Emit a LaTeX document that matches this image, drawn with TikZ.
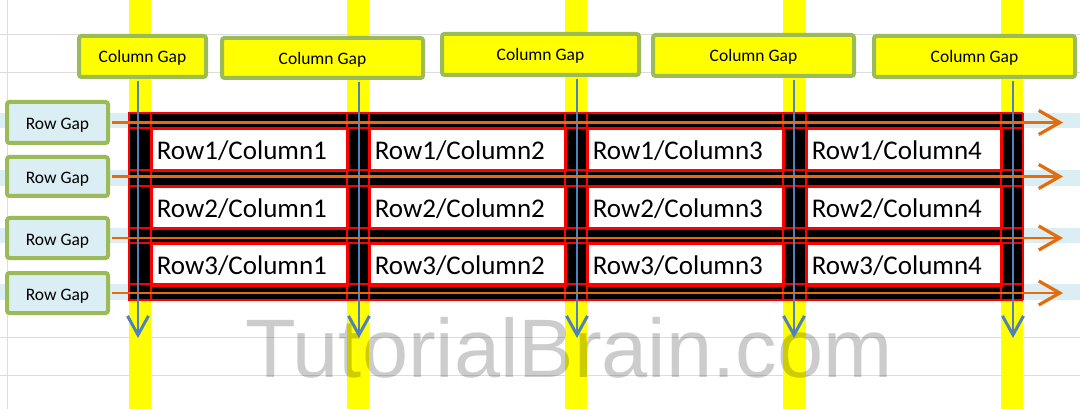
\documentclass[tikz,border=0pt]{standalone}
\usepackage{fontspec}
\setmainfont{Carlito}
\newfontfamily\wmfont{Liberation Sans}
\usetikzlibrary{arrows.meta}
\definecolor{ylw}{HTML}{FFFF00}
\definecolor{grn}{HTML}{9BBB59}
\definecolor{ltblue}{HTML}{DAEEF3}
\definecolor{orng}{HTML}{E46C0A}
\definecolor{blu}{HTML}{4F81BD}
\definecolor{gridgray}{HTML}{DCDCDC}
\tikzset{
  gridln/.style={draw=gridgray, line width=1pt},
  redln/.style={draw=red, line width=1.6pt},
  cellbox/.style={draw=red, line width=1.6pt, fill=white, anchor=north west,
    minimum height=42pt, inner xsep=5pt, inner ysep=0pt, align=left,
    font=\fontsize{27}{27}\selectfont, text height=19pt, text depth=0pt},
  rowgap/.style={draw=grn, line width=4pt, fill=ltblue, rounded corners=2.5pt,
    minimum width=101pt, inner sep=0pt, font=\fontsize{17.5}{17.5}\selectfont,
    text height=14pt, text depth=0pt},
  colgap/.style={draw=grn, line width=4pt, fill=ylw, rounded corners=2.5pt,
    inner sep=0pt, font=\fontsize{17.5}{17.5}\selectfont,
    text height=13pt, text depth=0pt},
  bluearrow/.style={draw=blu, line width=2.2pt, shorten <=2pt,
    -{Straight Barb[length=19pt, width=21pt, line width=3pt]}},
  orangearrow/.style={draw=orng, line width=2.8pt, shorten <=2pt,
    -{Straight Barb[length=21pt, width=24pt, line width=3.2pt]}},
  wmark/.style={font=\wmfont\fontsize{83}{83}\selectfont, text=black, text opacity=0.2, inner sep=0pt, anchor=base west}
}
\begin{document}
\begin{tikzpicture}[x=1pt,y=-1pt]
\useasboundingbox (0,0) rectangle (1080,409);
\fill[white] (0,0) rectangle (1080,409);
% spreadsheet gridlines
\foreach \y in {35,73,337,375} \draw[gridln] (0,\y) -- (1080,\y);
\draw[gridln] (7,0) -- (7,409);
% yellow column gap stripes
\foreach \a/\b in {129/151,347/369,565/587,783/806,1001/1023} \fill[ylw] (\a,0) rectangle (\b,409);
% light blue row gap bands
\foreach \a/\b in {113/128,170/186,228/243,284/300} \fill[ltblue] (0,\a) rectangle (1080,\b);
% grid container
\fill[black] (128,113) rectangle (1023,300);
% cells
\foreach \r/\ry in {1/128,2/186,3/243}{
  \foreach \c/\cx/\cw in {1/151/196,2/369/196,3/587/196,4/806/195}{
    \node[cellbox, minimum width=\cw pt, text width=\cw pt-10pt] (c\r\c) at (\cx,\ry) {Row\r/Column\c};
  }
}
% red grid lines
\foreach \y in {113,128,170,186,228,243,284,300} \draw[redln] (128,\y) -- (1023,\y);
\foreach \x in {129,151,347,369,565,587,783,806,1001,1023} \draw[redln] (\x,113) -- (\x,300);
% watermark
\node[wmark] (wm) at (245,377) {TutorialBrain.com};
% labels
\node[colgap, minimum width=127pt, minimum height=41pt] (cg1) at (142.5,56.5) {Column Gap};
\node[colgap, minimum width=201pt, minimum height=40pt] (cg2) at (322.5,58) {Column Gap};
\node[colgap, minimum width=197pt, minimum height=41pt] (cg3) at (540.5,54.5) {Column Gap};
\node[colgap, minimum width=201pt, minimum height=41pt] (cg4) at (753.5,55.5) {Column Gap};
\node[colgap, minimum width=201pt, minimum height=41pt] (cg5) at (974.5,56.5) {Column Gap};
\node[rowgap, minimum height=41pt] (rg1) at (57.5,122.5) {Row Gap};
\node[rowgap, minimum height=39pt] (rg2) at (57.5,176.5) {Row Gap};
\node[rowgap, minimum height=40pt] (rg3) at (57.5,238) {Row Gap};
\node[rowgap, minimum height=40pt] (rg4) at (57.5,293) {Row Gap};
% arrow end points
\coordinate (b1) at (138,338);
\coordinate (b2) at (359,338);
\coordinate (b3) at (577,338);
\coordinate (b4) at (794,338);
\coordinate (b5) at (1013,338);
\coordinate (oend) at (1063,0);
% blue arrows
\foreach \i in {1,...,5} \draw[bluearrow] (b\i |- cg\i.south) -- (b\i);
% orange arrows
\foreach \i in {1,...,4} \draw[orangearrow] (rg\i.east) -- (rg\i.east -| oend);
\end{tikzpicture}
\end{document}
